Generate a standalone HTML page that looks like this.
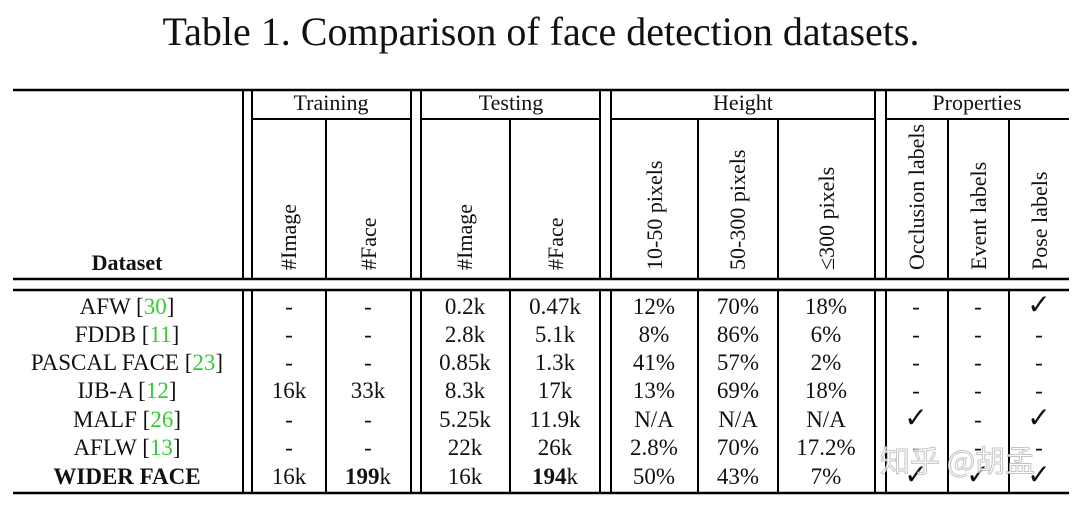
<!DOCTYPE html>
<html><head><meta charset="utf-8"><style>
html,body{margin:0;padding:0;background:#fff;}
svg{display:block;}
text{font-family:"Liberation Serif","Times New Roman",serif;fill:#111;}
.ck{font-family:"DejaVu Sans",sans-serif;font-size:28px;}
</style></head><body>
<svg width="1079" height="507" viewBox="0 0 1079 507" xmlns="http://www.w3.org/2000/svg">
<text x="541" y="45" font-size="40" text-anchor="middle" font-family="Liberation Serif, serif">Table 1. Comparison of face detection datasets.</text>
<g stroke="#000" stroke-width="2.5">
<line x1="13" y1="90" x2="1069" y2="90"/>
<line x1="13" y1="279" x2="1069" y2="279"/>
<line x1="13" y1="290" x2="1069" y2="290"/>
<line x1="13" y1="493" x2="1069" y2="493"/>
</g>
<g stroke="#000" stroke-width="2">
<line x1="252" y1="119" x2="411" y2="119"/>
<line x1="421" y1="119" x2="600" y2="119"/>
<line x1="611" y1="119" x2="875" y2="119"/>
<line x1="886" y1="119" x2="1069" y2="119"/>
<line x1="243" y1="90" x2="243" y2="279"/><line x1="252" y1="90" x2="252" y2="279"/>
<line x1="411" y1="90" x2="411" y2="279"/><line x1="421" y1="90" x2="421" y2="279"/>
<line x1="600" y1="90" x2="600" y2="279"/><line x1="611" y1="90" x2="611" y2="279"/>
<line x1="875" y1="90" x2="875" y2="279"/><line x1="886" y1="90" x2="886" y2="279"/>
<line x1="326" y1="119" x2="326" y2="279"/><line x1="510" y1="119" x2="510" y2="279"/>
<line x1="698" y1="119" x2="698" y2="279"/><line x1="778" y1="119" x2="778" y2="279"/>
<line x1="948" y1="119" x2="948" y2="279"/><line x1="1009" y1="119" x2="1009" y2="279"/>
<line x1="243" y1="290" x2="243" y2="493"/><line x1="252" y1="290" x2="252" y2="493"/>
<line x1="411" y1="290" x2="411" y2="493"/><line x1="421" y1="290" x2="421" y2="493"/>
<line x1="600" y1="290" x2="600" y2="493"/><line x1="611" y1="290" x2="611" y2="493"/>
<line x1="875" y1="290" x2="875" y2="493"/><line x1="886" y1="290" x2="886" y2="493"/>
<line x1="326" y1="290" x2="326" y2="493"/><line x1="510" y1="290" x2="510" y2="493"/>
<line x1="698" y1="290" x2="698" y2="493"/><line x1="778" y1="290" x2="778" y2="493"/>
<line x1="948" y1="290" x2="948" y2="493"/><line x1="1009" y1="290" x2="1009" y2="493"/>
</g>
<g font-size="22" text-anchor="middle">
<text x="331" y="110">Training</text>
<text x="511" y="110">Testing</text>
<text x="743" y="110">Height</text>
<text x="977" y="110">Properties</text>
<text x="127" y="270" font-weight="bold">Dataset</text>
</g>
<g font-size="22">
<text transform="translate(296,270) rotate(-90)">#Image</text>
<text transform="translate(376,270) rotate(-90)">#Face</text>
<text transform="translate(472,270) rotate(-90)">#Image</text>
<text transform="translate(563,270) rotate(-90)">#Face</text>
<text transform="translate(662,270) rotate(-90)">10-50 pixels</text>
<text transform="translate(745,270) rotate(-90)">50-300 pixels</text>
<text transform="translate(834,270) rotate(-90)">≤300 pixels</text>
<text transform="translate(924,270) rotate(-90)">Occlusion labels</text>
<text transform="translate(986,270) rotate(-90)">Event labels</text>
<text transform="translate(1047,270) rotate(-90)">Pose labels</text>
</g>
<g font-size="23" text-anchor="middle">
<text x="127" y="314">AFW [<tspan fill="#3c3">30</tspan>]</text>
<text x="127" y="342">FDDB [<tspan fill="#3c3">11</tspan>]</text>
<text x="127" y="370">PASCAL FACE [<tspan fill="#3c3">23</tspan>]</text>
<text x="127" y="398">IJB-A [<tspan fill="#3c3">12</tspan>]</text>
<text x="127" y="427">MALF [<tspan fill="#3c3">26</tspan>]</text>
<text x="127" y="455">AFLW [<tspan fill="#3c3">13</tspan>]</text>
<text x="127" y="484" font-weight="bold">WIDER FACE</text>

<text x="289" y="314">-</text><text x="368" y="314">-</text><text x="465" y="314">0.2k</text><text x="555" y="314">0.47k</text><text x="654" y="314">12%</text><text x="738" y="314">70%</text><text x="826" y="314">18%</text><text x="916" y="314">-</text><text x="978" y="314">-</text><text x="1039" y="314" class="ck">✓</text>
<text x="289" y="342">-</text><text x="368" y="342">-</text><text x="465" y="342">2.8k</text><text x="555" y="342">5.1k</text><text x="654" y="342">8%</text><text x="738" y="342">86%</text><text x="826" y="342">6%</text><text x="916" y="342">-</text><text x="978" y="342">-</text><text x="1039" y="342">-</text>
<text x="289" y="370">-</text><text x="368" y="370">-</text><text x="465" y="370">0.85k</text><text x="555" y="370">1.3k</text><text x="654" y="370">41%</text><text x="738" y="370">57%</text><text x="826" y="370">2%</text><text x="916" y="370">-</text><text x="978" y="370">-</text><text x="1039" y="370">-</text>
<text x="289" y="398">16k</text><text x="368" y="398">33k</text><text x="465" y="398">8.3k</text><text x="555" y="398">17k</text><text x="654" y="398">13%</text><text x="738" y="398">69%</text><text x="826" y="398">18%</text><text x="916" y="398">-</text><text x="978" y="398">-</text><text x="1039" y="398">-</text>
<text x="289" y="427">-</text><text x="368" y="427">-</text><text x="465" y="427">5.25k</text><text x="555" y="427">11.9k</text><text x="654" y="427">N/A</text><text x="738" y="427">N/A</text><text x="826" y="427">N/A</text><text x="916" y="427" class="ck">✓</text><text x="978" y="427">-</text><text x="1039" y="427" class="ck">✓</text>
<text x="289" y="455">-</text><text x="368" y="455">-</text><text x="465" y="455">22k</text><text x="555" y="455">26k</text><text x="654" y="455">2.8%</text><text x="738" y="455">70%</text><text x="826" y="455">17.2%</text><text x="916" y="455">-</text><text x="978" y="455">-</text><text x="1039" y="455">-</text>
<text x="289" y="484">16k</text><text x="368" y="484"><tspan font-weight="bold">199</tspan>k</text><text x="465" y="484">16k</text><text x="555" y="484"><tspan font-weight="bold">194</tspan>k</text><text x="654" y="484">50%</text><text x="738" y="484">43%</text><text x="826" y="484">7%</text><text x="916" y="484" class="ck">✓</text><text x="978" y="484" class="ck">✓</text><text x="1039" y="484" class="ck">✓</text>
</g>
<text x="880" y="472" font-size="30" style="font-family:'Noto Sans CJK SC',sans-serif;fill:#fff;stroke:#bbb;stroke-width:1;opacity:0.85">知乎 @胡孟</text>
</svg>
</body></html>
